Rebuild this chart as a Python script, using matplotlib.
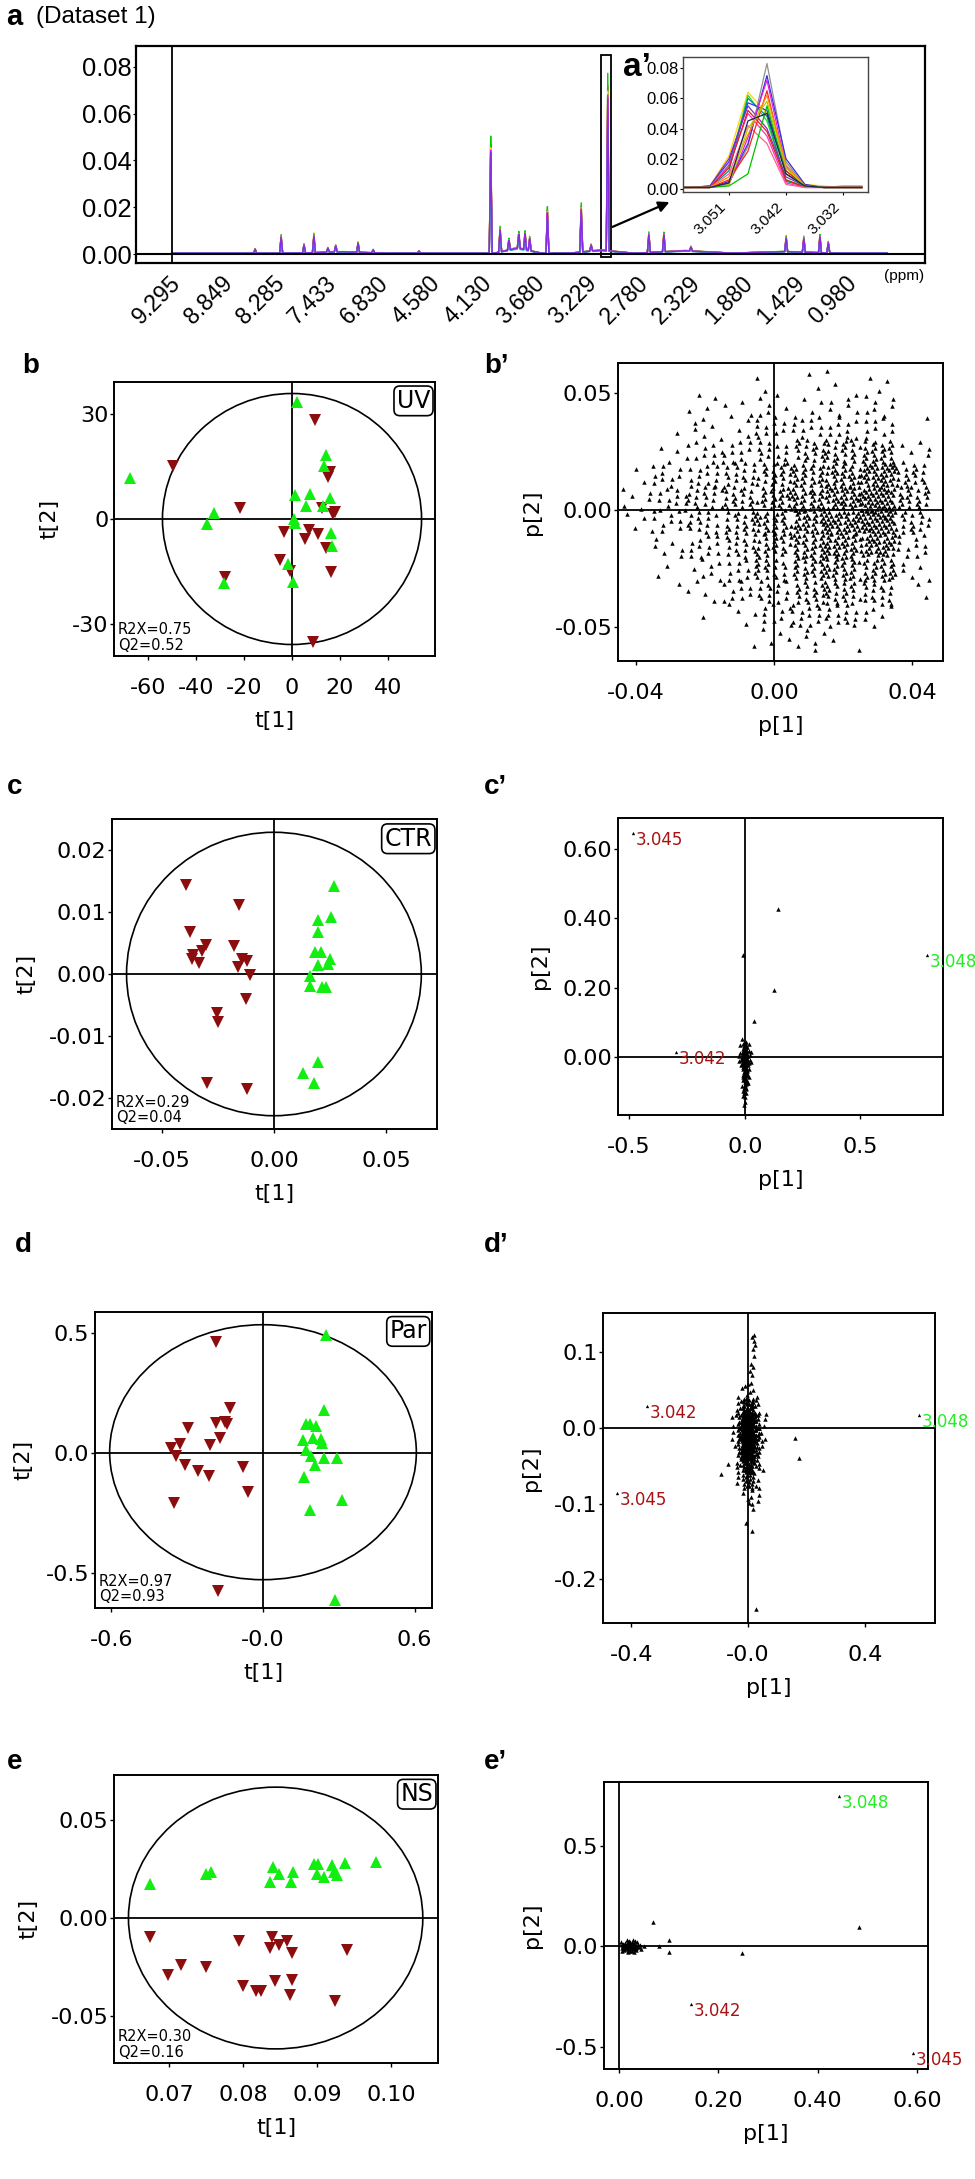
import numpy as np
import matplotlib.pyplot as plt
from matplotlib.patches import Ellipse, Rectangle, FancyArrowPatch
from matplotlib import font_manager as fm

plt.rcParams['axes.unicode_minus'] = False
plt.rcParams['font.family'] = ['DejaVu Sans']

W, H = 975, 2179
names = {f.name for f in fm.fontManager.ttflist}
HAS_NARROW = 'Liberation Sans Narrow' in names
NARROW = ['Liberation Sans Narrow', 'Liberation Sans', 'DejaVu Sans']
SANS = ['Liberation Sans', 'DejaVu Sans']
nk = 1.0 if HAS_NARROW else 0.92

GREEN = '#12ee12'
DKRED = '#8b0d0d'
LBLRED = '#a81212'
LBLGREEN = '#22ee22'

# ---------------- panel a : spectrum (index axis, one unit per tick label)
ppm_labels = ['9.295', '8.849', '8.285', '7.433', '6.830', '4.580', '4.130',
              '3.680', '3.229', '2.780', '2.329', '1.880', '1.429', '0.980']
peak_pos = [1.35, 1.85, 2.29, 2.48, 2.75, 2.90, 3.33, 3.62, 4.50, 5.88, 6.06,
            6.23, 6.42, 6.54, 6.63, 6.97, 7.62, 7.81, 8.13, 8.92, 9.21, 9.73,
            11.56, 11.90, 12.21, 12.37]
peak_h = [0.002, 0.008, 0.004, 0.0085, 0.002, 0.003, 0.0045, 0.0015, 0.001,
          0.051, 0.011, 0.005, 0.007, 0.008, 0.006, 0.020, 0.021, 0.003, 0.078,
          0.009, 0.0085, 0.002, 0.007, 0.007, 0.008, 0.005]
hump_pos = [6.4, 8.0, 9.6, 3.0, 11.5]
hump_h = [0.0025, 0.0015, 0.0012, 0.0007, 0.0008]
hump_w = [0.45, 0.6, 0.9, 0.8, 1.0]
sample_colors = ['#ff0000', '#00cc00', '#ff9900', '#0000ff', '#ffee00',
                 '#ff00ff', '#00c8c8', '#8a2be2']
sample_scale = [0.93, 1.0, 0.85, 0.8, 0.9, 0.88, 0.7, 0.86]

# ---------------- panel a' : zoom on the 3.04 ppm signal (bins -1..9)
inset_labels = ['3.051', '3.042', '3.032']
inset_series = [
    [0.001, 0.001, 0.002, 0.022, 0.064, 0.050, 0.010, 0.003, 0.002, 0.001, 0.001],
    [0.001, 0.001, 0.001, 0.015, 0.062, 0.045, 0.006, 0.002, 0.001, 0.001, 0.001],
    [0.001, 0.001, 0.001, 0.012, 0.060, 0.048, 0.005, 0.002, 0.001, 0.001, 0.001],
    [0.001, 0.001, 0.002, 0.018, 0.057, 0.052, 0.012, 0.002, 0.001, 0.001, 0.001],
    [0.001, 0.001, 0.002, 0.020, 0.055, 0.040, 0.008, 0.002, 0.001, 0.001, 0.001],
    [0.001, 0.001, 0.001, 0.016, 0.050, 0.035, 0.004, 0.001, 0.001, 0.001, 0.001],
    [0.001, 0.001, 0.001, 0.014, 0.052, 0.038, 0.006, 0.001, 0.001, 0.001, 0.001],
    [0.001, 0.001, 0.001, 0.010, 0.042, 0.030, 0.003, 0.001, 0.001, 0.002, 0.002],
    [0.001, 0.001, 0.001, 0.004, 0.028, 0.083, 0.018, 0.002, 0.001, 0.001, 0.001],
    [0.001, 0.001, 0.001, 0.005, 0.030, 0.075, 0.020, 0.003, 0.001, 0.001, 0.001],
    [0.001, 0.001, 0.001, 0.003, 0.034, 0.072, 0.015, 0.002, 0.001, 0.001, 0.001],
    [0.001, 0.001, 0.001, 0.006, 0.025, 0.065, 0.012, 0.002, 0.001, 0.001, 0.001],
    [0.001, 0.001, 0.001, 0.008, 0.036, 0.062, 0.016, 0.002, 0.001, 0.001, 0.001],
    [0.001, 0.001, 0.001, 0.003, 0.040, 0.058, 0.014, 0.002, 0.001, 0.001, 0.001],
    [0.001, 0.001, 0.001, 0.002, 0.010, 0.055, 0.010, 0.002, 0.001, 0.001, 0.001],
    [0.001, 0.001, 0.001, 0.004, 0.045, 0.050, 0.010, 0.002, 0.001, 0.001, 0.001],
]
inset_colors = ['#ffd700', '#22dd22', '#009090', '#2040ff', '#8030c0', '#ff30c0',
                '#e02020', '#ff6090', '#909090', '#3030e0', '#e020e0', '#ff2020',
                '#ff8c00', '#b0d000', '#00c000', '#202060']
inset_bins = [-1, 0, 1, 2, 3, 4, 5, 6, 7, 8, 9]

# ---------------- score plots
b_green_x = [2.1, -67.6, 14.3, 13.5, 1.4, 7.4, 6.0, 12.9, 15.7, -32.4, -35.4, 0.7, 1.4, 16.3, 16.7, -1.8, 0.4, -28.5]
b_green_y = [33.5, 11.9, 18.4, 15.1, 6.9, 7.2, 3.7, 3.7, 5.9, 1.6, -1.4, -0.1, -1.1, -3.9, -7.7, -12.8, -18.0, -18.5]
b_red_x = [-49.6, 9.7, 15.7, 15.0, -21.8, 12.5, 17.8, 17.1, -3.5, 6.9, 10.7, 5.6, 14.3, -5.1, -0.7, 16.4, -28.1, 8.6]
b_red_y = [15.1, 28.5, 13.6, 12.0, 3.1, 3.1, 1.9, 1.4, -3.8, -3.2, -4.3, -5.8, -8.4, -11.8, -15.0, -15.3, -16.6, -35.3]

c_red_x = [-0.0394, -0.0156, -0.0375, -0.0304, -0.0323, -0.0360, -0.0368, -0.0335, -0.0177, -0.0141, -0.0122, -0.0159, -0.0107, -0.0126, -0.0253, -0.0249, -0.0298, -0.0122]
c_red_y = [0.0144, 0.0112, 0.0068, 0.0047, 0.0037, 0.0030, 0.0025, 0.0018, 0.0045, 0.0025, 0.0021, 0.0012, -0.0002, -0.0041, -0.0063, -0.0078, -0.0176, -0.0186]
c_green_x = [0.0269, 0.0254, 0.0198, 0.0195, 0.0183, 0.0210, 0.0250, 0.0243, 0.0198, 0.0161, 0.0161, 0.0213, 0.0232, 0.0198, 0.0131, 0.0179]
c_green_y = [0.0142, 0.0093, 0.0088, 0.0068, 0.0036, 0.0036, 0.0025, 0.0017, 0.0015, -0.0003, -0.0019, -0.0021, -0.0021, -0.0142, -0.0161, -0.0176]

d_red_x = [-0.185, -0.129, -0.187, -0.149, -0.141, -0.297, -0.172, -0.330, -0.208, -0.363, -0.343, -0.307, -0.257, -0.215, -0.079, -0.059, -0.352, -0.178]
d_red_y = [0.464, 0.186, 0.124, 0.129, 0.119, 0.103, 0.064, 0.039, 0.033, 0.021, -0.014, -0.050, -0.074, -0.097, -0.060, -0.164, -0.207, -0.576]
d_green_x = [0.248, 0.240, 0.169, 0.187, 0.211, 0.158, 0.198, 0.231, 0.235, 0.169, 0.191, 0.240, 0.293, 0.204, 0.161, 0.313, 0.185, 0.286]
d_green_y = [0.493, 0.179, 0.121, 0.121, 0.111, 0.053, 0.064, 0.057, 0.043, 0.014, -0.014, -0.021, -0.021, -0.050, -0.100, -0.196, -0.236, -0.611]

e_green_x = [0.0674, 0.0750, 0.0757, 0.0841, 0.0849, 0.0836, 0.0867, 0.0865, 0.0896, 0.0901, 0.0900, 0.0909, 0.0920, 0.0923, 0.0927, 0.0938, 0.0979]
e_green_y = [0.0172, 0.0224, 0.0236, 0.0259, 0.0224, 0.0184, 0.0236, 0.0184, 0.0276, 0.0276, 0.0224, 0.0207, 0.0271, 0.0233, 0.0219, 0.0281, 0.0288]
e_red_x = [0.0674, 0.0699, 0.0717, 0.0750, 0.0794, 0.0839, 0.0836, 0.0849, 0.0859, 0.0866, 0.0940, 0.0800, 0.0818, 0.0824, 0.0843, 0.0866, 0.0863, 0.0924]
e_red_y = [-0.0095, -0.0290, -0.0241, -0.0250, -0.0116, -0.0095, -0.0155, -0.0138, -0.0117, -0.0178, -0.0164, -0.0345, -0.0374, -0.0371, -0.0322, -0.0316, -0.0391, -0.0422]

# ---------------- loading plots (dense clouds given as counts per cell, rows top->bottom)
bp_xedges = [-0.045, -0.035, -0.025, -0.015, -0.005, 0.005, 0.015, 0.025, 0.035, 0.045]
bp_yedges = [0.06, 0.05, 0.04, 0.03, 0.02, 0.01, 0.0, -0.01, -0.02, -0.03, -0.04, -0.05, -0.06]
bp_counts = [
    [0, 0, 0, 0, 2, 2, 2, 3, 0],
    [0, 0, 4, 3, 6, 3, 7, 7, 0],
    [0, 1, 6, 6, 9, 11, 10, 9, 1],
    [0, 4, 9, 10, 14, 20, 22, 25, 6],
    [2, 10, 13, 16, 22, 27, 32, 42, 18],
    [6, 12, 16, 20, 27, 32, 40, 50, 22],
    [4, 10, 14, 20, 28, 34, 42, 50, 18],
    [0, 6, 12, 16, 23, 30, 36, 40, 11],
    [0, 2, 7, 12, 17, 26, 28, 27, 6],
    [0, 1, 4, 9, 14, 20, 21, 16, 2],
    [0, 0, 1, 4, 9, 14, 13, 6, 0],
    [0, 0, 0, 1, 4, 6, 2, 0, 0],
]

cp_xedges = [-0.03, -0.01, 0.01, 0.03]
cp_yedges = [0.06, 0.04, 0.02, 0.0, -0.02, -0.04, -0.06, -0.08, -0.10, -0.12, -0.14]
cp_counts = [[0, 3, 0], [1, 8, 2], [3, 20, 4], [3, 20, 4], [1, 12, 2],
             [0, 10, 1], [0, 8, 1], [0, 6, 0], [0, 4, 0], [0, 2, 0]]
cp_x = [0.143, 0.125, 0.039, -0.009]
cp_y = [0.426, 0.193, 0.104, 0.293]

dp_xedges = [-0.06, -0.04, -0.02, 0.0, 0.02, 0.04, 0.06]
dp_yedges = [0.06, 0.04, 0.02, 0.0, -0.02, -0.04, -0.06, -0.08, -0.10]
dp_counts = [[0, 1, 3, 3, 1, 0], [0, 4, 14, 14, 4, 0], [2, 10, 35, 35, 10, 2],
             [2, 12, 40, 40, 12, 3], [1, 8, 30, 30, 10, 1], [0, 5, 18, 18, 6, 1],
             [0, 2, 8, 8, 3, 0], [0, 0, 2, 3, 2, 0]]
dp_x = [0.161, 0.175, -0.093, -0.068, 0.062, 0.027, 0.013, -0.007, 0.015, 0.016,
        0.012, 0.015, 0.018, 0.012, 0.020, 0.016, 0.022, 0.014, 0.020, 0.008, 0.024]
dp_y = [-0.013, -0.040, -0.061, -0.048, 0.019, -0.239, -0.136, -0.126, -0.100, -0.107,
        0.060, 0.070, 0.080, 0.085, 0.095, 0.105, 0.115, 0.120, 0.123, 0.075, 0.110]

ep_xedges = [0.005, 0.015, 0.025, 0.035, 0.045]
ep_yedges = [0.03, 0.01, -0.01, -0.03]
ep_counts = [[3, 6, 4, 1], [10, 20, 14, 4], [3, 6, 4, 1]]
ep_x = [0.068, 0.484, 0.101, 0.101, 0.248, 0.080, 0.050]
ep_y = [0.121, 0.093, 0.030, -0.031, -0.036, 0.0, 0.0]

fig = plt.figure(figsize=(W / 100, H / 100), dpi=100)


def box(l, t, r, b):
    return fig.add_axes([l / W, 1 - b / H, (r - l) / W, (b - t) / H])


def ftext(x, y, s, **kw):
    fig.text(x / W, 1 - y / H, s, **kw)


def cloud(xedges, yedges, counts):
    xs, ys = [], []
    k = 0
    for i, row in enumerate(counts):
        for j, n in enumerate(row):
            for m in range(n):
                k += 1
                u = (0.5 + k * 0.7548776662) % 1
                v = (0.5 + k * 0.5698402910) % 1
                xs.append(xedges[j] + (xedges[j + 1] - xedges[j]) * u)
                ys.append(yedges[i + 1] + (yedges[i] - yedges[i + 1]) * v)
    return xs, ys


def style(ax, xt, xl, yt, yl, xlab, ylab):
    for s in ax.spines.values():
        s.set_linewidth(1.4)
    ax.set_xticks(xt)
    ax.set_xticklabels(xl)
    ax.set_yticks(yt)
    ax.set_yticklabels(yl)
    ax.tick_params(length=3, width=1, labelsize=16, direction='out')
    ax.tick_params(axis='x', pad=13)
    ax.tick_params(axis='y', pad=1)
    ax.set_xlabel(xlab, fontsize=16, labelpad=9)
    ax.set_ylabel(ylab, fontsize=16, labelpad=9)


def scores(rect, xlim, ylim, ell, red, green, tag, stats, ticks, vline=True):
    ax = box(*rect)
    ax.set_xlim(*xlim)
    ax.set_ylim(*ylim)
    ax.axhline(0, color='k', lw=1.3, zorder=1)
    if vline:
        ax.axvline(0, color='k', lw=1.3, zorder=1)
    ax.add_patch(Ellipse(ell[:2], ell[2], ell[3], fill=False, ec='k', lw=1.2, zorder=1))
    ax.plot(red[0], red[1], 'v', color=DKRED, ms=9, mew=0, ls='none', zorder=3)
    ax.plot(green[0], green[1], '^', color=GREEN, ms=9, mew=0, ls='none', zorder=4)
    ax.text(0.985, 0.975, tag, transform=ax.transAxes, ha='right', va='top', fontsize=17,
            bbox=dict(boxstyle='round,pad=0.12,rounding_size=0.25', fc='white', ec='k', lw=1.2))
    ax.text(0.012, 0.012, stats, transform=ax.transAxes, ha='left', va='bottom',
            fontsize=10.5, linespacing=1.05)
    style(ax, *ticks, 't[1]', 't[2]')
    return ax


def loadings(rect, xlim, ylim, pts, labels, ticks):
    ax = box(*rect)
    ax.set_xlim(*xlim)
    ax.set_ylim(*ylim)
    ax.axhline(0, color='k', lw=1.3, zorder=1)
    ax.axvline(0, color='k', lw=1.3, zorder=1)
    for xs, ys in pts:
        ax.plot(xs, ys, '^', color='k', ms=3.2, mew=0, ls='none', zorder=3)
    for x, y, s, c in labels:
        ax.plot([x], [y], '^', color='k', ms=2.4, mew=0, clip_on=False)
        ax.annotate(s, (x, y), xytext=(2, -5), textcoords='offset points',
                    ha='left', va='center', fontsize=12, color=c, annotation_clip=False)
    style(ax, *ticks, 'p[1]', 'p[2]')
    return ax


# ---- panel a
ax = box(136, 46, 925, 263)
ax.set_xlim(-0.94, 14.23)
ax.set_ylim(-0.0038, 0.0889)
xs = np.linspace(-0.25, 13.5, 7000)
for col, sc in zip(sample_colors, sample_scale):
    ys = np.full_like(xs, 0.0004)
    for p, h in zip(peak_pos, peak_h):
        ys += h * sc * np.clip(1 - np.abs(xs - p) / 0.028, 0, None)
    for p, h, w in zip(hump_pos, hump_h, hump_w):
        ys += h * sc * np.clip(1 - np.abs(xs - p) / w, 0, None)
    ax.plot(xs, ys, color=col, lw=1.0)
ax.axhline(0, color='k', lw=1.5)
ax.axvline(-0.25, color='k', lw=1.3)
ax.add_patch(Rectangle((8.0, -0.0012), 0.2, 0.0863, fill=False, ec='k', lw=1.3))
for s in ax.spines.values():
    s.set_linewidth(1.6)
ax.set_xticks(range(len(ppm_labels)))
ax.set_xticklabels(ppm_labels, rotation=45, ha='right', fontsize=18 * nk, family=NARROW)
ax.set_yticks([0, 0.02, 0.04, 0.06, 0.08])
ax.set_yticklabels(['0.00', '0.02', '0.04', '0.06', '0.08'], fontsize=20 * nk, family=NARROW)
ax.tick_params(axis='x', length=0, pad=6)
ax.tick_params(axis='y', length=2, pad=1)
ftext(904, 276, '(ppm)', fontsize=12 * nk, family=NARROW, ha='center', va='center')

# ---- panel a'
ax2 = box(683, 57, 868, 192)
ax2.set_xlim(-0.42, 9.32)
ax2.set_ylim(-0.002, 0.0873)
for vals, col in zip(inset_series, inset_colors):
    ax2.plot(inset_bins, vals, color=col, lw=0.9)
for s in ax2.spines.values():
    s.set_linewidth(1.0)
    s.set_color('#444444')
ax2.set_xticks([2, 5, 8])
ax2.set_xticklabels(inset_labels, rotation=45, ha='right', fontsize=12 * nk, family=NARROW)
ax2.set_yticks([0, 0.02, 0.04, 0.06, 0.08])
ax2.set_yticklabels(['0.00', '0.02', '0.04', '0.06', '0.08'], fontsize=13 * nk, family=NARROW)
ax2.tick_params(length=2, pad=1)
ax2.tick_params(axis='x', pad=4)
fig.add_artist(FancyArrowPatch((610 / W, 1 - 228 / H), (672 / W, 1 - 201 / H),
                               transform=fig.transFigure, arrowstyle='-|>',
                               mutation_scale=16, lw=1.6, color='k'))

ftext(6, 17, 'a', fontsize=21, fontweight='bold', family=SANS, va='center')
ftext(36, 17, '(Dataset 1)', fontsize=19 * nk, family=NARROW, va='center')
ftext(623, 68, 'a\u2019', fontsize=24, fontweight='bold', family=SANS, va='center')

# ---- score plots
scores((114, 382, 435, 656), (-74.2, 59.6), (-39.3, 39.3), (0, 0, 108, 72),
       (b_red_x, b_red_y), (b_green_x, b_green_y), 'UV', 'R2X=0.75\nQ2=0.52',
       ([-60, -40, -20, 0, 20, 40], ['-60', '-40', '-20', '0', '20', '40'],
        [-30, 0, 30], ['-30', '0', '30']))
scores((112, 819, 437, 1129), (-0.0723, 0.0728), (-0.0251, 0.0251), (0, 0, 0.1316, 0.0459),
       (c_red_x, c_red_y), (c_green_x, c_green_y), 'CTR', 'R2X=0.29\nQ2=0.04',
       ([-0.05, 0, 0.05], ['-0.05', '0.00', '0.05'],
        [-0.02, -0.01, 0, 0.01, 0.02], ['-0.02', '-0.01', '0.00', '0.01', '0.02']))
scores((95, 1312, 432, 1608), (-0.665, 0.669), (-0.646, 0.588), (0, 0.0035, 1.214, 1.063),
       (d_red_x, d_red_y), (d_green_x, d_green_y), 'Par', 'R2X=0.97\nQ2=0.93',
       ([-0.6, 0, 0.6], ['-0.6', '-0.0', '0.6'],
        [-0.5, 0, 0.5], ['-0.5', '0.0', '0.5']))
scores((114, 1775, 438, 2063), (0.0626, 0.1063), (-0.074, 0.073), (0.0844, 0, 0.0397, 0.1336),
       (e_red_x, e_red_y), (e_green_x, e_green_y), 'NS', 'R2X=0.30\nQ2=0.16',
       ([0.07, 0.08, 0.09, 0.10], ['0.07', '0.08', '0.09', '0.10'],
        [-0.05, 0, 0.05], ['-0.05', '0.00', '0.05']), vline=False)

# ---- loading plots
loadings((618, 363, 943, 661), (-0.0452, 0.049), (-0.0643, 0.0626),
         [cloud(bp_xedges, bp_yedges, bp_counts)], [],
         ([-0.04, 0, 0.04], ['-0.04', '0.00', '0.04'], [-0.05, 0, 0.05], ['-0.05', '0.00', '0.05']))
loadings((618, 818, 943, 1115), (-0.548, 0.857), (-0.167, 0.689),
         [cloud(cp_xedges, cp_yedges, cp_counts), (cp_x, cp_y)],
         [(-0.485, 0.647, '3.045', LBLRED), (-0.299, 0.014, '3.042', LBLRED),
          (0.788, 0.294, '3.048', LBLGREEN)],
         ([-0.5, 0, 0.5], ['-0.5', '0.0', '0.5'], [0, 0.2, 0.4, 0.6], ['0.00', '0.20', '0.40', '0.60']))
loadings((603, 1313, 935, 1623), (-0.497, 0.641), (-0.258, 0.152),
         [cloud(dp_xedges, dp_yedges, dp_counts), (dp_x, dp_y)],
         [(-0.346, 0.029, '3.042', LBLRED), (-0.449, -0.086, '3.045', LBLRED),
          (0.586, 0.017, '3.048', LBLGREEN)],
         ([-0.4, 0, 0.4], ['-0.4', '-0.0', '0.4'], [-0.2, -0.1, 0, 0.1], ['-0.2', '-0.1', '0.0', '0.1']))
loadings((604, 1782, 928, 2069), (-0.030, 0.622), (-0.611, 0.816),
         [cloud(ep_xedges, ep_yedges, ep_counts), (ep_x, ep_y)],
         [(0.443, 0.745, '3.048', LBLGREEN), (0.145, -0.29, '3.042', LBLRED),
          (0.592, -0.53, '3.045', LBLRED)],
         ([0, 0.2, 0.4, 0.6], ['0.00', '0.20', '0.40', '0.60'], [-0.5, 0, 0.5], ['-0.5', '0.0', '0.5']))

# ---- panel letters
for x, y, s in [(22, 366, 'b'), (484, 366, 'b\u2019'), (7, 787, 'c'), (484, 787, 'c\u2019'),
                (15, 1245, 'd'), (484, 1245, 'd\u2019'), (7, 1762, 'e'), (484, 1762, 'e\u2019')]:
    ftext(x, y, s, fontsize=20, fontweight='bold', family=SANS, va='center')

fig.savefig('out.png', dpi=100)
